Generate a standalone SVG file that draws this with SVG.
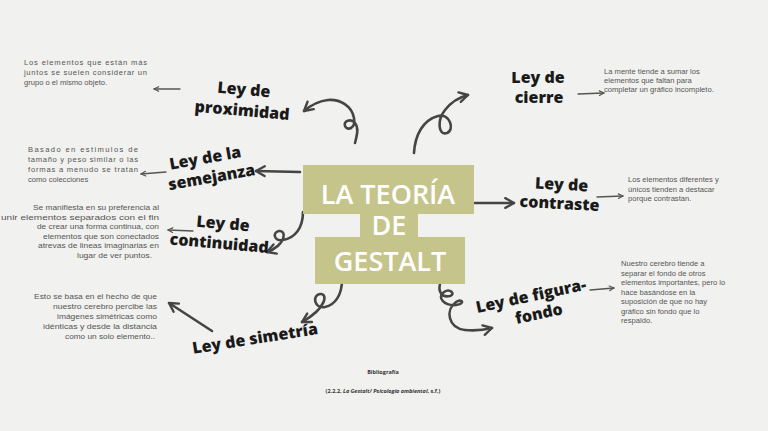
<svg xmlns="http://www.w3.org/2000/svg" width="768" height="431" viewBox="0 0 768 431">
<defs>
<style>
.bg{fill:#f1f1ef}
.box{fill:#c5c48b}
.title{font-family:"Open Sans","Noto Sans",sans-serif;font-weight:600;font-size:27px;fill:#ffffff;text-anchor:middle}
.law{font-family:"Open Sans","Noto Sans",sans-serif;font-weight:800;font-size:16px;fill:#1a1a1a;text-anchor:middle}
.desc{font-family:"Liberation Sans","DejaVu Sans",sans-serif;font-size:7.6px;fill:#555555}
.big{fill:none;stroke:#454543;stroke-width:2.6;stroke-linecap:round;stroke-linejoin:round}
.small{fill:none;stroke:#555553;stroke-width:1.3;stroke-linecap:round}
.bib{font-family:"Open Sans","Noto Sans",sans-serif;font-size:5.5px;font-weight:700;fill:#333;text-anchor:middle}
</style>
<marker id="ahBig" viewBox="0 0 12 12" refX="10" refY="6" markerWidth="13" markerHeight="13" markerUnits="userSpaceOnUse" orient="auto">
<path d="M2,1.5 L10,6 L2,10.5" fill="none" stroke="#454543" stroke-width="2.2" stroke-linecap="round" stroke-linejoin="round"/>
</marker>
<marker id="ahSmall" viewBox="0 0 12 12" refX="10" refY="6" markerWidth="7" markerHeight="7" markerUnits="userSpaceOnUse" orient="auto">
<path d="M2,2 L10,6 L2,10" fill="none" stroke="#555553" stroke-width="2" stroke-linecap="round" stroke-linejoin="round"/>
</marker>
</defs>
<rect class="bg" x="0" y="0" width="768" height="431"/>

<g id="connectors">
<path class="big" marker-end="url(#ahBig)" d="M355,143 C357,135 359,128 355,123 C351,118 343,121 345,126 C347,131 356,129 354,118 C352,106 340,99 328,100 C318,101 310,106 304,111"/>
<path class="big" marker-end="url(#ahBig)" d="M300,172 L256,171"/>
<path class="big" marker-end="url(#ahBig)" d="M303,212 C303,228 295,238 283,240 C274,242 272,232 279,231 C287,230 286,245 267,252"/>
<path class="big" marker-end="url(#ahBig)" d="M342,280 C342,295 335,305 325,307 C314,309 312,295 320,294 C328,293 327,308 302,322"/>
<path class="big" marker-end="url(#ahBig)" d="M212,331 L169,303"/>
<path class="big" marker-end="url(#ahBig)" d="M414,153 C415,135 423,120 438,116 C450,113 455,130 447,133 C438,136 437,120 445,110 C452,101 460,97 468,95"/>
<path class="big" marker-end="url(#ahBig)" d="M475,203 L514,203"/>
<path class="big" marker-end="url(#ahBig)" d="M440,284 C438,292 442,298 450,296 C456,294 450,288 444,292 C436,298 445,306 456,305 C466,304 462,298 456,302 C445,310 448,328 465,330 C475,331 484,330 492,328"/>
<path class="small" marker-end="url(#ahSmall)" d="M180,89 L154,89"/>
<path class="small" marker-end="url(#ahSmall)" d="M166,172 L141,174"/>
<path class="small" marker-end="url(#ahSmall)" d="M193,231 L168,230"/>
<path class="small" marker-end="url(#ahSmall)" d="M578,94 L604,93"/>
<path class="small" marker-end="url(#ahSmall)" d="M597,197 L623,196"/>
<path class="small" marker-end="url(#ahSmall)" d="M590,290 L614,288"/>
</g>

<g id="title">
<rect class="box" x="303" y="165" width="171" height="49"/>
<rect class="box" x="360" y="212" width="58" height="27"/>
<rect class="box" x="315" y="237" width="150" height="47"/>
<text class="title" x="388" y="204">LA TEORÍA</text>
<text class="title" x="389" y="235">DE</text>
<text class="title" x="390" y="271">GESTALT</text>
</g>

<g id="proximidad">
<text class="law" transform="rotate(5 243 100)"><tspan x="243" y="95">Ley de</tspan><tspan x="243" y="116">proximidad</tspan></text>
<text class="desc"><tspan x="24" y="65" textLength="123" lengthAdjust="spacing">Los elementos que están más</tspan><tspan x="24" y="75" textLength="123" lengthAdjust="spacing">juntos se suelen considerar un</tspan><tspan x="24" y="85">grupo o el mismo objeto.</tspan></text>
</g>

<g id="semejanza">
<text class="law" transform="rotate(-10 209 168)"><tspan x="207" y="163">Ley de la</tspan><tspan x="210" y="183">semejanza</tspan></text>
<text class="desc"><tspan x="28" y="152" textLength="110" lengthAdjust="spacing">Basado en estimulos de</tspan><tspan x="28" y="162" textLength="110" lengthAdjust="spacing">tamaño y peso similar o las</tspan><tspan x="28" y="172" textLength="110" lengthAdjust="spacing">formas a menudo se tratan</tspan><tspan x="28" y="182">como colecciones</tspan></text>
</g>

<g id="continuidad">
<text class="law" transform="rotate(5 222 235)"><tspan x="222" y="229">Ley de</tspan><tspan x="220" y="249">continuidad</tspan></text>
<text class="desc"><tspan x="33" y="210" textLength="126" lengthAdjust="spacingAndGlyphs">Se manifiesta en su preferencia al</tspan><tspan x="1" y="219.5" textLength="158" lengthAdjust="spacingAndGlyphs">unir elementos  separados con el  fin</tspan><tspan x="37" y="229" textLength="122" lengthAdjust="spacingAndGlyphs">de crear una forma continua, con</tspan><tspan x="43" y="238.5" textLength="116" lengthAdjust="spacingAndGlyphs">elementos que son conectados</tspan><tspan x="38" y="248" textLength="121" lengthAdjust="spacingAndGlyphs">atrevas de lineas imaginarias  en</tspan><tspan x="77" y="257.5" textLength="75" lengthAdjust="spacingAndGlyphs">lugar de ver puntos.</tspan></text>
</g>

<g id="simetria">
<text class="law" transform="rotate(-9 255 338)"><tspan x="255" y="344">Ley de simetría</tspan></text>
<text class="desc"><tspan x="34" y="299" textLength="123" lengthAdjust="spacingAndGlyphs">Esto se basa en el hecho de que</tspan><tspan x="53" y="309" textLength="104" lengthAdjust="spacingAndGlyphs">nuestro cerebro percibe las</tspan><tspan x="57" y="319" textLength="100" lengthAdjust="spacingAndGlyphs">imágenes simétricas como</tspan><tspan x="43" y="329" textLength="114" lengthAdjust="spacingAndGlyphs">idénticas y desde la distancia</tspan><tspan x="65" y="339" textLength="90" lengthAdjust="spacingAndGlyphs">como un solo elemento..</tspan></text>
</g>

<g id="cierre">
<text class="law"><tspan x="538" y="83">Ley de</tspan><tspan x="539" y="103">cierre</tspan></text>
<text class="desc"><tspan x="604" y="74">La mente tiende a sumar los</tspan><tspan x="604" y="83">elementos que faltan para</tspan><tspan x="604" y="92">completar un gráfico incompleto.</tspan></text>
</g>

<g id="contraste">
<text class="law" transform="rotate(3 561 195)"><tspan x="561" y="190">Ley de</tspan><tspan x="560" y="209">contraste</tspan></text>
<text class="desc"><tspan x="628" y="182">Los elementos diferentes y</tspan><tspan x="628" y="191.5">únicos tienden a destacar</tspan><tspan x="628" y="201">porque contrastan.</tspan></text>
</g>

<g id="figura-fondo">
<text class="law" transform="rotate(-12 534 305)"><tspan x="533" y="301">Ley de figura-</tspan><tspan x="537" y="320">fondo</tspan></text>
<text class="desc"><tspan x="621" y="266">Nuestro cerebro tiende a</tspan><tspan x="621" y="275.5">separar el fondo de otros</tspan><tspan x="621" y="285">elementos importantes, pero lo</tspan><tspan x="621" y="294.5">hace basándose en la</tspan><tspan x="621" y="304">suposición de que no hay</tspan><tspan x="621" y="313.5">gráfico sin fondo que lo</tspan><tspan x="621" y="323">respaldo.</tspan></text>
</g>

<g id="bibliografia">
<text class="bib" x="383" y="374">Bibliografía</text>
<text class="bib" x="383" y="393">(2.2.2. <tspan font-style="italic">La Gestalt/ Psicología ambiental</tspan>, s.f.)</text>
</g>
</svg>
